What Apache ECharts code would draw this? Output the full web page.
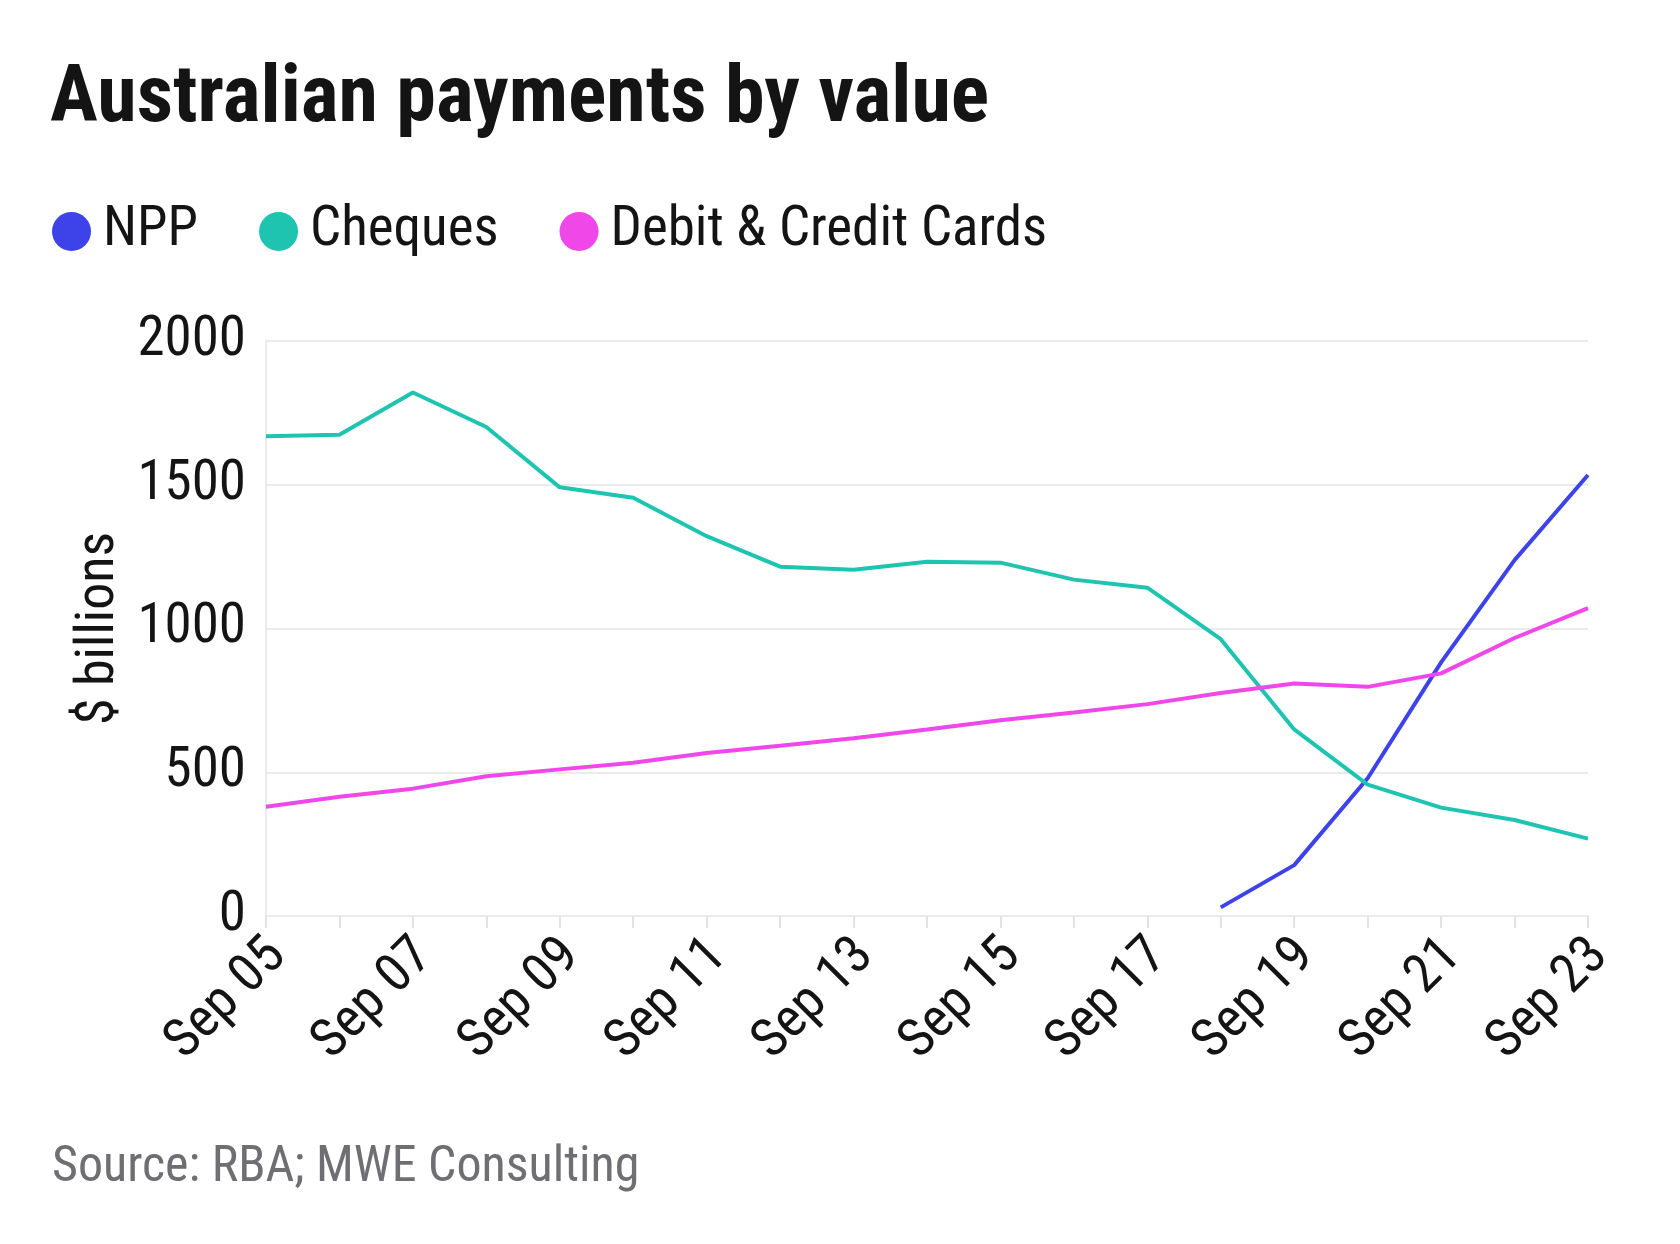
<!DOCTYPE html>
<html>
<head>
<meta charset="utf-8">
<title>Australian payments by value</title>
<script src="https://cdn.jsdelivr.net/npm/echarts@6/dist/echarts.min.js"></script>
<style>
  html, body { margin: 0; padding: 0; background: #fff; }
  #chart { width: 1680px; height: 1244px; }
</style>
</head>
<body>
<div id="chart"></div>
<script>
// 数据
const months = ['Sep 05', 'Sep 06', 'Sep 07', 'Sep 08', 'Sep 09', 'Sep 10', 'Sep 11', 'Sep 12', 'Sep 13', 'Sep 14',
    'Sep 15', 'Sep 16', 'Sep 17', 'Sep 18', 'Sep 19', 'Sep 20', 'Sep 21', 'Sep 22', 'Sep 23'];
const npp = [null, null, null, null, null, null, null, null, null, null,
    null, null, null, 30, 177, 479, 882, 1238, 1534];
const cheques = [1669, 1674, 1821, 1701, 1491, 1455, 1321, 1215, 1204, 1232,
    1229, 1170, 1142, 963, 649, 457, 377, 334, 269];
const cards = [380, 415, 443, 486, 510, 533, 567, 592, 618, 649,
    681, 708, 737, 776, 809, 797, 844, 967, 1071];

const font = '"Roboto Condensed", "Liberation Sans Narrow", "DejaVu Sans Condensed", sans-serif';

let myChart = echarts.init(document.getElementById('chart'));
myChart.setOption({
    backgroundColor: '#fff',
    animation: false,
    title: [
        {
            text: 'Australian payments by value',
            left: 45,
            top: 56,
            textStyle: {fontFamily: font, fontSize: 80, fontWeight: 'bold', color: '#141414'}
        },
        {
            text: 'Source: RBA; MWE Consulting',
            left: 47,
            top: 1138,
            textStyle: {fontFamily: font, fontSize: 50, fontWeight: 'normal', color: '#6e6e73'}
        }
    ],
    legend: {
        left: 47,
        top: 199,
        icon: 'circle',
        itemWidth: 39,
        itemHeight: 39,
        itemGap: 61,
        textStyle: {fontFamily: font, fontSize: 55, color: '#141414', padding: [0, 0, 0, 7]},
        data: ['NPP', 'Cheques', 'Debit & Credit Cards']
    },
    grid: {left: 266, right: 92, top: 341, bottom: 328, containLabel: false},
    xAxis: {
        type: 'category',
        boundaryGap: false,
        data: months,
        axisLine: {show: true, lineStyle: {color: '#ebebeb', width: 2}},
        axisTick: {show: true, interval: 0, length: 12, lineStyle: {color: '#e3e3e3', width: 2}},
        axisLabel: {
            interval: 1,
            rotate: 45,
            margin: 44,
            padding: [33, -17, 0, 0],
            fontFamily: font,
            fontSize: 54,
            color: '#141414'
        },
        splitLine: {show: false}
    },
    yAxis: {
        type: 'value',
        min: 0,
        max: 2000,
        interval: 500,
        name: '$ billions',
        nameLocation: 'middle',
        nameGap: 129,
        nameTextStyle: {fontFamily: font, fontSize: 54, color: '#141414'},
        axisLine: {show: true, lineStyle: {color: '#ebebeb', width: 2}},
        axisTick: {show: false},
        axisLabel: {
            fontFamily: font,
            fontSize: 55,
            color: '#141414',
            margin: 20,
            formatter: function (v) { return String(v); }
        },
        splitLine: {lineStyle: {color: '#ebebeb', width: 2}}
    },
    series: [
        {
            name: 'NPP',
            type: 'line',
            data: npp,
            showSymbol: false,
            color: '#3d43e8',
            lineStyle: {width: 4}
        },
        {
            name: 'Cheques',
            type: 'line',
            data: cheques,
            showSymbol: false,
            color: '#1ec4b0',
            lineStyle: {width: 4}
        },
        {
            name: 'Debit & Credit Cards',
            type: 'line',
            data: cards,
            showSymbol: false,
            color: '#f047e8',
            lineStyle: {width: 4}
        }
    ]
});
</script>
</body>
</html>
